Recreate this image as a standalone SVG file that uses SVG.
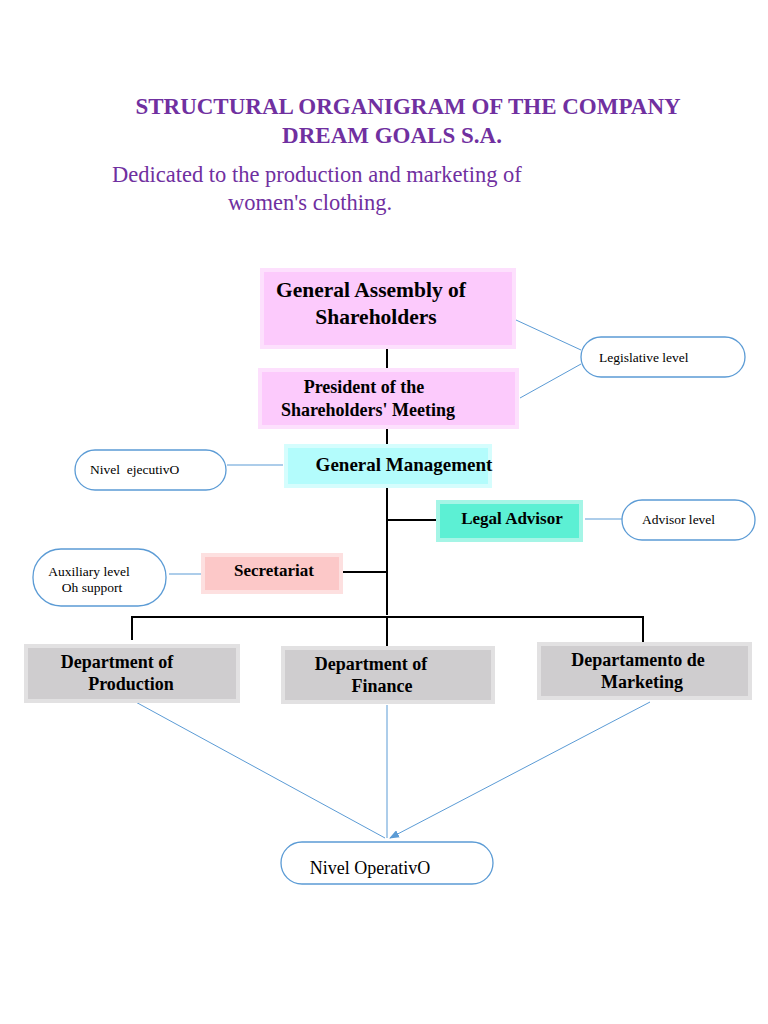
<svg xmlns="http://www.w3.org/2000/svg" width="768" height="1024" viewBox="0 0 768 1024">
<style>
.t{font-family:"Liberation Serif",serif;}
.b{font-family:"Liberation Serif",serif;font-weight:bold;fill:#000;}
.title{font-family:"Liberation Serif",serif;font-weight:bold;fill:#7030a0;font-size:23px;}
.sub{font-family:"Liberation Serif",serif;fill:#7030a0;font-size:22.5px;}
.oval{fill:#fff;stroke:#5b9bd5;stroke-width:1.3;}
.bl{stroke:#000;stroke-width:2;fill:none;}
.cl{stroke:#5b9bd5;stroke-width:1;fill:none;}
.s{font-family:"Liberation Serif",serif;font-size:13.5px;fill:#000;}
</style>
<defs><marker id="a" markerWidth="10" markerHeight="8" refX="9" refY="4" orient="auto"><path d="M0,0 L10,4 L0,8 z" fill="#5b9bd5"/></marker></defs>
<rect width="768" height="1024" fill="#fff"/>
<text class="title" x="408" y="114" text-anchor="middle">STRUCTURAL ORGANIGRAM OF THE COMPANY</text>
<text class="title" x="392" y="143" text-anchor="middle">DREAM GOALS S.A.</text>
<text class="sub" x="112" y="182">Dedicated to the production and marketing of</text>
<text class="sub" x="228" y="210">women's clothing.</text>
<g id="connectors">
<path class="bl" d="M387 347V370M387 427V446M387 486V615M388 520H438M343 572H387M132 640V617H643V642M387 617V647"/>
<path class="cl" d="M516 320L581 350M520 398L581 364M227 465H283M585 519H623M169 574H202"/>
<path class="cl" marker-end="url(#a)" d="M132 700L385 838M387 705V838M650 702L390 838"/>
</g>
<g id="n1"><rect x="262" y="270" width="252" height="77" fill="#fccafc" stroke="#fde0fd" stroke-width="4"/><text class="b" font-size="21.5" x="371" y="297" text-anchor="middle">General Assembly of</text><text class="b" font-size="21.5" x="376" y="324" text-anchor="middle">Shareholders</text></g>
<g id="n2"><rect x="260" y="370" width="257" height="57" fill="#fccafc" stroke="#fde0fd" stroke-width="4"/><text class="b" font-size="18" x="364" y="393" text-anchor="middle">President of the</text><text class="b" font-size="18" x="368" y="416" text-anchor="middle">Shareholders' Meeting</text></g>
<g id="n3"><rect x="286" y="446" width="204" height="40" fill="#b3fcfc" stroke="#d5fdfd" stroke-width="4"/><text class="b" font-size="19" x="404" y="471" text-anchor="middle">General Management</text></g>
<g id="n4"><rect x="438" y="502" width="143" height="38" fill="#5cf0d4" stroke="#a5f5e6" stroke-width="4"/><text class="b" font-size="17" x="512" y="524" text-anchor="middle">Legal Advisor</text></g>
<g id="n5"><rect x="203" y="555" width="138" height="37" fill="#fcc8c8" stroke="#fde0e0" stroke-width="4"/><text class="b" font-size="17" x="274" y="576" text-anchor="middle">Secretariat</text></g>
<g id="n6"><rect x="26" y="646" width="212" height="55" fill="#cfcdcf" stroke="#e2e1e2" stroke-width="4"/><text class="b" font-size="18" x="117" y="668" text-anchor="middle">Department of</text><text class="b" font-size="18" x="131" y="690" text-anchor="middle">Production</text></g>
<g id="n7"><rect x="283" y="648" width="210" height="54" fill="#cfcdcf" stroke="#e2e1e2" stroke-width="4"/><text class="b" font-size="18" x="371" y="670" text-anchor="middle">Department of</text><text class="b" font-size="18" x="382" y="692" text-anchor="middle">Finance</text></g>
<g id="n8"><rect x="539" y="644" width="211" height="54" fill="#cfcdcf" stroke="#e2e1e2" stroke-width="4"/><text class="b" font-size="18" x="638" y="666" text-anchor="middle">Departamento de</text><text class="b" font-size="18" x="642" y="688" text-anchor="middle">Marketing</text></g>
<g id="o1"><rect class="oval" x="581" y="337" width="164" height="40" rx="20"/><text class="s" x="599" y="362">Legislative level</text></g>
<g id="o2"><rect class="oval" x="75" y="450" width="151" height="40" rx="20"/><text class="s" x="90" y="474" xml:space="preserve">Nivel  ejecutivO</text></g>
<g id="o3"><rect class="oval" x="622" y="500" width="133" height="40" rx="20"/><text class="s" x="642" y="524">Advisor level</text></g>
<g id="o4"><rect class="oval" x="33" y="549" width="133" height="57" rx="28"/><text class="s" font-size="12.5" x="89" y="576" text-anchor="middle">Auxiliary level</text><text class="s" font-size="12.5" x="92" y="592" text-anchor="middle">Oh support</text></g>
<g id="o5"><rect class="oval" x="281" y="842" width="212" height="42" rx="21"/><text class="t" font-size="18" x="370" y="874" text-anchor="middle">Nivel OperativO</text></g>
</svg>
